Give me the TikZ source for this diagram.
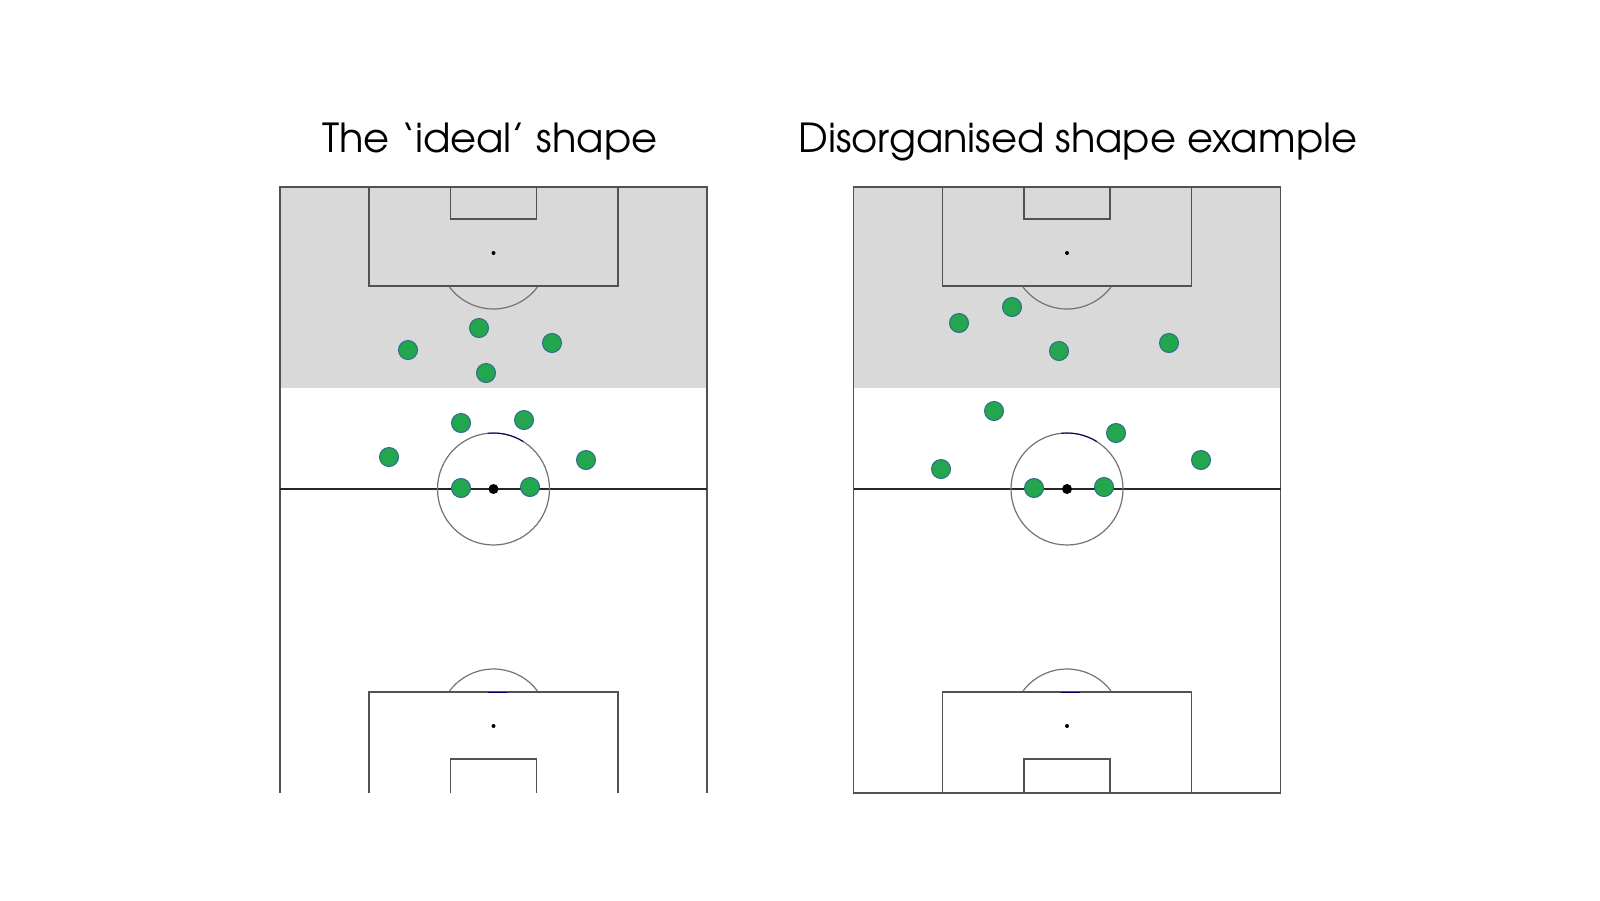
\documentclass[tikz,border=0pt]{standalone}
\usepackage{fontspec}
\setmainfont{TeX Gyre Adventor}
\begin{document}
\begin{tikzpicture}[x=1pt,y=-1pt,
  pline/.style={draw=black!68,line width=1.4pt},
  arcline/.style={draw=black!55,line width=1.2pt},
  midline/.style={draw=black!85,line width=1.3pt},
  navy/.style={draw=blue!40!black,line width=1pt},
  player/.style={circle,minimum size=19pt,inner sep=0pt,line width=1pt},
  title/.style={anchor=base,font=\fontsize{40}{44}\selectfont,text=black}]
\useasboundingbox (0,0) rectangle (1600,900);
\fill[white] (0,0) rectangle (1600,900);
\definecolor{zone}{HTML}{D9D9D9}
\definecolor{pgreen}{HTML}{24A64F}
\definecolor{pedge}{HTML}{2E6A8C}
\tikzset{player/.append style={fill=pgreen,draw=pedge}}

\node[title] (t1) at (490,152) {The ‘ideal’ shape};
\node[title] (t2) at (1078,152) {Disorganised shape example};

% ---------- left pitch ----------
\begin{scope}[shift={(493.5,187)}]
  \fill[zone] (-213.5,0) rectangle (213.5,201);
  \draw[pline] (-213.5,606) -- (-213.5,0) -- (213.5,0) -- (213.5,606);
  \draw[pline] (-124.5,0) -- (-124.5,99) -- (124.5,99) -- (124.5,0);
  \draw[pline] (-43,0) -- (-43,32) -- (43,32) -- (43,0);
  \fill (0,66) circle (2pt);
  \draw[arcline] (-44,100) arc[start angle=143.13,end angle=36.87,radius=55];
  \draw[midline] (-213.5,302) -- (213.5,302);
  \draw[arcline] (0,302) circle (56);
  \draw[navy] (0,302) ++(-96:56) arc[start angle=-96,end angle=-58,radius=56];
  \fill (0,302) circle (5pt);
  \draw[pline] (-124.5,606) -- (-124.5,505) -- (124.5,505) -- (124.5,606);
  \draw[navy] (-5.5,505) -- (13.5,505);
  \draw[pline] (-43,606) -- (-43,572) -- (43,572) -- (43,606);
  \fill (0,539) circle (2pt);
  \draw[arcline] (-44,504) arc[start angle=-143.13,end angle=-36.87,radius=55];
\end{scope}
\node[player] (a1) at (408,350) {};
\node[player] (a2) at (479,328) {};
\node[player] (a3) at (552,343) {};
\node[player] (a4) at (486,373) {};
\node[player] (a5) at (461,423) {};
\node[player] (a6) at (524,420) {};
\node[player] (a7) at (389,457) {};
\node[player] (a8) at (586,460) {};
\node[player] (a9) at (461,488) {};
\node[player] (a10) at (530,487) {};

% ---------- right pitch ----------
\begin{scope}[shift={(1067,187)}]
  \fill[zone] (-213.5,0) rectangle (213.5,201);
  \draw[pline] (-213.5,0) rectangle (213.5,606);
  \draw[pline] (-124.5,0) -- (-124.5,99) -- (124.5,99) -- (124.5,0);
  \draw[pline] (-43,0) -- (-43,32) -- (43,32) -- (43,0);
  \fill (0,66) circle (2pt);
  \draw[arcline] (-44,100) arc[start angle=143.13,end angle=36.87,radius=55];
  \draw[midline] (-213.5,302) -- (213.5,302);
  \draw[arcline] (0,302) circle (56);
  \draw[navy] (0,302) ++(-96:56) arc[start angle=-96,end angle=-58,radius=56];
  \fill (0,302) circle (5pt);
  \draw[pline] (-124.5,606) -- (-124.5,505) -- (124.5,505) -- (124.5,606);
  \draw[navy] (-6,505) -- (13,505);
  \draw[pline] (-43,606) -- (-43,572) -- (43,572) -- (43,606);
  \fill (0,539) circle (2pt);
  \draw[arcline] (-44,504) arc[start angle=-143.13,end angle=-36.87,radius=55];
\end{scope}
\node[player] (b1) at (959,323) {};
\node[player] (b2) at (1012,307) {};
\node[player] (b3) at (1059,351) {};
\node[player] (b4) at (1169,343) {};
\node[player] (b5) at (994,411) {};
\node[player] (b6) at (1116,433) {};
\node[player] (b7) at (941,469) {};
\node[player] (b8) at (1201,460) {};
\node[player] (b9) at (1034,488) {};
\node[player] (b10) at (1104,487) {};
\end{tikzpicture}
\end{document}
